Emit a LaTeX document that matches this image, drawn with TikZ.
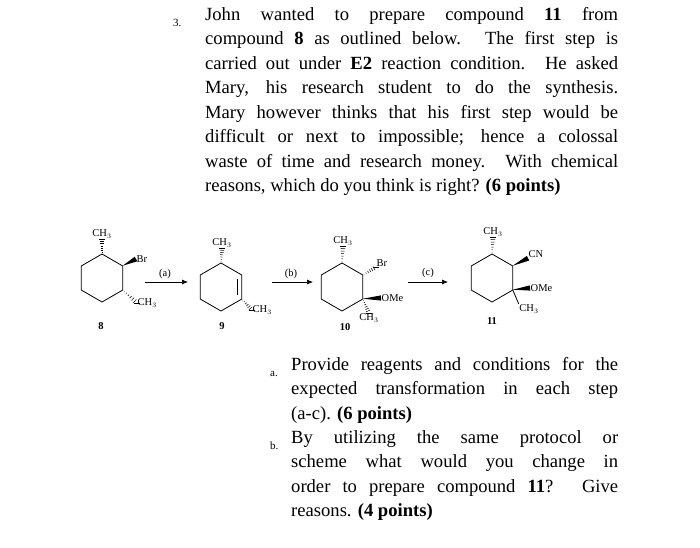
\documentclass[tikz,border=0pt]{standalone}
\usepackage{fontspec}
\setmainfont{Liberation Serif}
\usetikzlibrary{calc,arrows.meta}
\newcommand\hexring[2]{%
 \foreach \a [count=\i] in {270,330,30,90,150,210}{\coordinate (#1v\i) at ($(#2)+(\a:24)$);}
 \draw[bond] (#1v1)--(#1v2)--(#1v3)--(#1v4)--(#1v5)--(#1v6)--cycle;}
\newcommand\wedgeb[2]{\fill ($(#1)!0.3pt!90:(#2)$) -- ($(#2)!2.6pt!90:(#1)$) -- ($(#2)!2.6pt!-90:(#1)$) -- cycle;}
\newcommand\hashb[2]{\foreach \t in {0.1,0.25,...,1.0}{\draw[line width=0.5pt] ($(#1)!\t!(#2)!{\t*2.6pt}!90:(#2)$) -- ($(#1)!\t!(#2)!{\t*2.6pt}!-90:(#2)$);}}
\begin{document}
\begin{tikzpicture}[x=1pt,y=-1pt,
 bond/.style={line width=0.8pt,line join=round},
 lab/.style={font=\fontsize{10.5}{11}\selectfont,inner sep=0.5pt},
 cnum/.style={font=\fontsize{10.5}{11}\selectfont\bfseries},
 rxn/.style={line width=0.7pt,-{Latex[length=6pt,width=5pt]}},
 para/.style={font=\fontsize{18.6}{24.5}\selectfont,align=justify,anchor=north west,inner sep=0pt},
 enum/.style={font=\fontsize{11}{12}\selectfont,anchor=base west,inner sep=0pt}]
\useasboundingbox (0,0) rectangle (700,547);
% question text
\node[enum] (n3) at (173,26) {3.};
\node[para,text width=413pt] (q) at (205,7) {John wanted to prepare compound \textbf{11} from\linebreak
compound \textbf{8} as outlined below. The first step is\linebreak
carried out under \textbf{E2} reaction condition. He asked\linebreak
Mary, his research student to do the synthesis.\linebreak
Mary however thinks that his first step would be\linebreak
difficult or next to impossible; hence a colossal\linebreak
waste of time and research money. With chemical\linebreak
reasons, which do you think is right? \textbf{(6 points)}};
\node[enum] (na) at (270,376) {a.};
\node[para,text width=327pt] (pa) at (291,357) {Provide reagents and conditions for the\linebreak
expected transformation in each step\linebreak
(a-c). \textbf{(6 points)}};
\node[enum] (nb) at (270,449) {b.};
\node[para,text width=327pt] (pb) at (291,430) {By utilizing the same protocol or\linebreak
scheme what would you change in\linebreak
order to prepare compound \textbf{11}? Give\linebreak
reasons. \textbf{(4 points)}};
% compound 8
\coordinate (c8) at (102,278);
\hexring{e}{c8}
\node[lab] (e8m) at (102,234) {CH$_3$};
\hashb{ev1}{e8m.south}
\node[lab,anchor=west] (e8br) at (136,259) {Br};
\wedgeb{ev2}{e8br.west}
\node[lab,anchor=west] (e8m2) at (137,303) {CH$_3$};
\hashb{ev3}{e8m2.west}
\node[cnum] (l8) at (101,326) {8};
% arrow a
\coordinate (aa1) at (145,282); \coordinate (aa2) at (188,282);
\draw[rxn] (aa1) -- (aa2);
\node[lab] (la) at (165,274) {(a)};
% compound 9
\coordinate (c9) at (221,287);
\hexring{f}{c9}
\draw[bond] ($(fv2)!0.15!(fv3)+(-4,0)$) -- ($(fv3)!0.15!(fv2)+(-4,0)$);
\node[lab] (f9m) at (222,243) {CH$_3$};
\hashb{fv1}{f9m.south}
\node[lab,anchor=west] (f9m2) at (252,310) {CH$_3$};
\hashb{fv3}{f9m2.west}
\node[cnum] (l9) at (222,326) {9};
% arrow b
\coordinate (ab1) at (272,282); \coordinate (ab2) at (313,282);
\draw[rxn] (ab1) -- (ab2);
\node[lab] (lb) at (291,274) {(b)};
% compound 10
\coordinate (c10) at (342,287);
\hexring{g}{c10}
\node[lab] (g10m) at (343,241) {CH$_3$};
\hashb{gv1}{g10m.south}
\node[lab,anchor=west] (g10br) at (376,263) {Br};
\hashb{gv2}{g10br.south west}
\node[lab,anchor=west] (g10o) at (381,298) {OMe};
\wedgeb{gv3}{g10o.west}
\node[lab] (g10m2) at (369,318) {CH$_3$};
\hashb{gv3}{g10m2.north}
\node[cnum] (l10) at (345,327) {10};
% arrow c
\coordinate (ac1) at (408,282); \coordinate (ac2) at (448,282);
\draw[rxn] (ac1) -- (ac2);
\node[lab] (lc) at (428,273) {(c)};
% compound 11
\coordinate (c11) at (492,278);
\hexring{h}{c11}
\node[lab] (h11m) at (493,232) {CH$_3$};
\hashb{hv1}{h11m.south}
\node[lab,anchor=west] (h11cn) at (528,254) {CN};
\wedgeb{hv2}{h11cn.south west}
\node[lab,anchor=west] (h11o) at (530,288) {OMe};
\wedgeb{hv3}{h11o.west}
\node[lab] (h11m2) at (529,309) {CH$_3$};
\draw[bond] (hv3) -- (h11m2.north west);
\node[cnum] (l11) at (492,321) {11};
\end{tikzpicture}
\end{document}
